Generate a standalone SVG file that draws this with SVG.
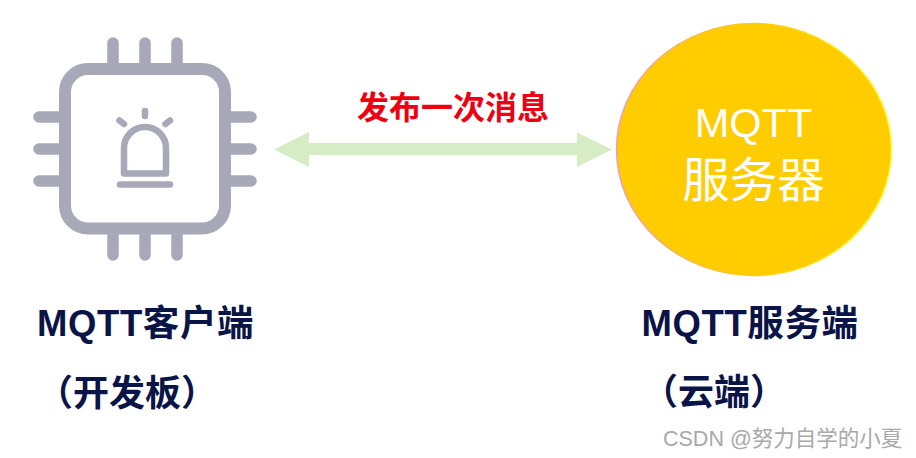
<svg xmlns="http://www.w3.org/2000/svg" width="916" height="458" viewBox="0 0 916 458">
<defs>
<linearGradient id="rim" x1="0" y1="0" x2="1" y2="0"><stop offset="0" stop-color="#e8a0c0"/><stop offset="0.5" stop-color="#ffcc00"/><stop offset="1" stop-color="#ffff20"/></linearGradient>
</defs>
<style>
text{font-family:"Liberation Sans","Noto Sans CJK SC",sans-serif}
.chip{fill:none;stroke:#a7a8b8;stroke-linecap:round;stroke-linejoin:round}
.label{font-size:36px;font-weight:700;fill:#0a1446}
.wide{font-size:36.500px;letter-spacing:0.600px}
.srv{fill:#fff;text-anchor:middle}
</style>
<rect width="916" height="458" fill="#fff"/>
<g id="connectors">
<path id="double-arrow" d="M274 149.500L309 132V143H577V132.500L612 149.500L577 167V155H309V167Z" fill="#d5ecc4"/>
</g>
<g id="client">
<g class="chip" stroke-width="11.500">
<rect x="65" y="69" width="160" height="159.500" rx="23" stroke-width="12"/>
<path d="M113 43V63M145 43V63M177 43V63M113 234V255M145 234V255M177 234V255M39 117H59M39 149H59M39 181H59M231 117H251M231 149H251M231 181H251"/>
</g>
<g class="chip" stroke-width="6.500">
<path d="M124 173.500V148a21 21 0 0 1 42 0V173.500Z"/>
<path d="M120 184.500H170M145 111V116M119.500 120.500L124 124M170 120.500L165.500 124"/>
</g>
<text class="label wide" x="37" y="336">MQTT客户端</text>
<text class="label" x="37" y="406">（开发板）</text>
</g>
<g id="server">
<ellipse cx="754" cy="149.500" rx="137.500" ry="126" fill="#ffcc00" stroke="url(#rim)" stroke-width="1.500"/>
<text class="srv" x="753.500" y="137" font-size="41.500">MQTT</text>
<text class="srv" x="753.500" y="197" font-size="47.500">服务器</text>
<text class="label wide" x="641.500" y="336">MQTT服务端</text>
<text class="label" x="642" y="405">（云端）</text>
</g>
<g id="message-label">
<text x="357" y="119" font-size="32" font-weight="700" fill="#ee0010">发布一次消息</text>
</g>
<g id="watermark">
<text x="663" y="446" font-size="21.500" fill="#a9a9a9">CSDN @努力自学的小夏</text>
</g>
</svg>
